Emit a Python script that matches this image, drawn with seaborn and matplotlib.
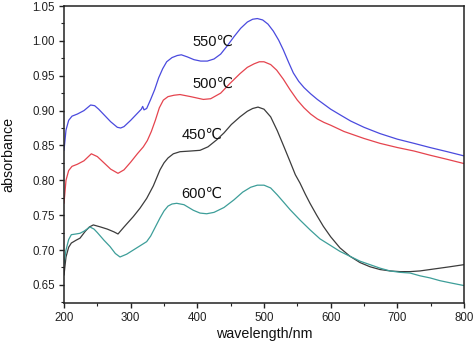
import matplotlib
matplotlib.use("Agg")
import matplotlib.pyplot as plt
import seaborn as sns
import pandas as pd
from matplotlib.ticker import MultipleLocator

# ---- data ----
wl_550 = [200, 203, 207, 212, 220, 230, 240, 246, 252, 260, 270, 280, 285, 290, 300, 310, 316, 318, 320, 324,
          330, 336, 342, 348, 354, 362, 370, 376, 385, 395, 405, 415, 425, 435, 445, 455, 465, 475, 483, 490,
          498, 506, 514, 522, 529, 537, 544, 552, 560, 570, 580, 590, 600, 614, 630, 650, 674, 700, 725, 749,
          775, 800]
ab_550 = [0.843, 0.872, 0.886, 0.892, 0.895, 0.900, 0.908, 0.907, 0.902, 0.894, 0.884, 0.876, 0.875, 0.877,
          0.886, 0.896, 0.902, 0.906, 0.901, 0.903, 0.916, 0.930, 0.947, 0.960, 0.970, 0.976, 0.979, 0.980,
          0.977, 0.973, 0.971, 0.971, 0.974, 0.981, 0.993, 1.006, 1.018, 1.027, 1.031, 1.032, 1.030, 1.024,
          1.014, 1.001, 0.987, 0.969, 0.954, 0.942, 0.933, 0.924, 0.916, 0.909, 0.902, 0.894, 0.885, 0.876,
          0.867, 0.859, 0.853, 0.847, 0.841, 0.835]

wl_500 = [200, 203, 207, 212, 220, 230, 241, 250, 260, 270, 281, 290, 300, 310, 319, 325, 331, 337, 343, 349,
          356, 365, 374, 390, 409, 420, 435, 449, 464, 475, 485, 493, 500, 510, 519, 529, 539, 550, 560, 570,
          580, 590, 600, 620, 650, 674, 700, 725, 749, 775, 800]
ab_500 = [0.767, 0.800, 0.814, 0.820, 0.823, 0.828, 0.838, 0.834, 0.825, 0.816, 0.810, 0.815, 0.826, 0.838,
          0.848, 0.857, 0.870, 0.886, 0.904, 0.915, 0.920, 0.922, 0.923, 0.920, 0.916, 0.917, 0.925, 0.939,
          0.953, 0.962, 0.967, 0.970, 0.970, 0.966, 0.958, 0.945, 0.930, 0.915, 0.904, 0.895, 0.888, 0.883,
          0.879, 0.870, 0.860, 0.853, 0.847, 0.842, 0.836, 0.830, 0.824]

wl_450 = [200, 203, 207, 211, 218, 224, 232, 238, 244, 255, 265, 275, 281, 290, 304, 314, 324, 334, 344, 350,
          356, 364, 374, 390, 404, 416, 429, 440, 451, 464, 475, 483, 491, 500, 510, 520, 530, 539, 547, 554,
          562, 569, 579, 589, 600, 614, 629, 644, 659, 674, 689, 704, 719, 734, 749, 764, 779, 800]
ab_450 = [0.664, 0.690, 0.704, 0.710, 0.714, 0.717, 0.727, 0.733, 0.736, 0.733, 0.730, 0.726, 0.723, 0.733,
          0.748, 0.760, 0.774, 0.792, 0.815, 0.825, 0.832, 0.838, 0.841, 0.842, 0.843, 0.848, 0.858, 0.868,
          0.880, 0.891, 0.899, 0.903, 0.905, 0.902, 0.891, 0.871, 0.848, 0.827, 0.808, 0.796, 0.780, 0.767,
          0.750, 0.734, 0.719, 0.703, 0.691, 0.682, 0.676, 0.672, 0.670, 0.669, 0.669, 0.670, 0.672, 0.674,
          0.676, 0.679]

wl_600 = [200, 203, 207, 211, 218, 224, 230, 239, 245, 250, 260, 269, 277, 284, 294, 304, 314, 324, 330, 337,
          344, 350, 356, 362, 369, 380, 394, 404, 414, 425, 440, 455, 468, 480, 490, 500, 510, 520, 530, 539,
          554, 569, 584, 599, 614, 629, 644, 659, 674, 689, 704, 719, 734, 749, 764, 779, 800]
ab_600 = [0.680, 0.700, 0.715, 0.722, 0.723, 0.724, 0.727, 0.733, 0.730, 0.725, 0.714, 0.705, 0.695, 0.690,
          0.694, 0.700, 0.706, 0.712, 0.720, 0.733, 0.746, 0.756, 0.763, 0.766, 0.767, 0.765, 0.757, 0.753,
          0.752, 0.754, 0.761, 0.772, 0.783, 0.790, 0.793, 0.793, 0.789, 0.779, 0.768, 0.758, 0.743, 0.729,
          0.716, 0.707, 0.698, 0.691, 0.684, 0.679, 0.674, 0.670, 0.668, 0.667, 0.663, 0.660, 0.656, 0.653,
          0.649]

series_names = ["550℃", "500℃", "450℃", "600℃"]
series_colors = ["#4a4ade", "#e5444e", "#3c3c3c", "#3d9e99"]
label_pos = [(423, 0.998), (423, 0.938), (407, 0.865), (407, 0.781)]

x_ticks = [200, 300, 400, 500, 600, 700, 800]
y_ticks = [0.65, 0.70, 0.75, 0.80, 0.85, 0.90, 0.95, 1.00, 1.05]

# ---- plot ----
sns.set_style("ticks")
plt.rcParams["font.family"] = ["Liberation Sans", "DejaVu Sans"]

fig = plt.figure(figsize=(4.74, 3.47), dpi=100)
ax = fig.add_axes([64 / 474, 44 / 347, 400 / 474, 297 / 347])

all_wl = [wl_550, wl_500, wl_450, wl_600]
all_ab = [ab_550, ab_500, ab_450, ab_600]
for name, wl, ab, col in zip(series_names, all_wl, all_ab, series_colors):
    df = pd.DataFrame({"wavelength": wl, "absorbance": ab})
    sns.lineplot(data=df, x="wavelength", y="absorbance", ax=ax, color=col, linewidth=0.9)

for name, (lx, ly) in zip(series_names, label_pos):
    ax.text(lx, ly, name, ha="center", va="center", fontsize=10.5, color="#111111",
            family=["Liberation Sans", "DejaVu Sans"])

ax.set_xlim(200, 800)
ax.set_ylim(0.624, 1.05)
ax.set_xticks(x_ticks)
ax.set_xticklabels([str(t) for t in x_ticks])
ax.set_yticks(y_ticks)
ax.set_yticklabels([f"{t:.2f}" for t in y_ticks])
ax.xaxis.set_minor_locator(MultipleLocator(50))
ax.yaxis.set_minor_locator(MultipleLocator(0.025))
ax.tick_params(which="major", direction="out", length=3.5, width=1, labelsize=8.3, colors="#222222", pad=3)
ax.tick_params(which="minor", direction="out", length=2, width=0.8, colors="#222222")
ax.tick_params(axis="x", which="both", top=False)
ax.tick_params(axis="y", which="both", right=False)
for s in ax.spines.values():
    s.set_visible(True)
    s.set_linewidth(1.1)
    s.set_color("#222222")

ax.set_xlabel("wavelength/nm", fontsize=10.3, labelpad=2, color="#111111")
ax.set_ylabel("absorbance", fontsize=10.3, labelpad=12, color="#111111")

fig.savefig("out.png", dpi=100)
